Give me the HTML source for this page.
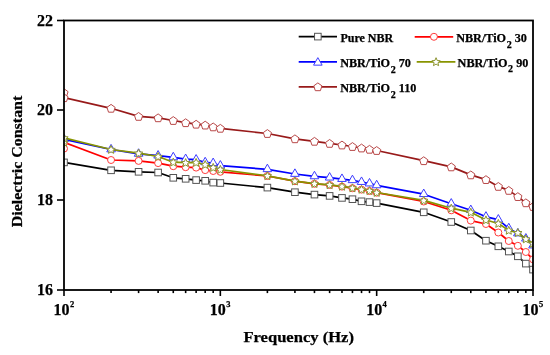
<!DOCTYPE html>
<html><head><meta charset="utf-8"><style>
html,body{margin:0;padding:0;background:#fff;}
body{width:550px;height:355px;overflow:hidden;}
svg{display:block;}
text{font-family:"Liberation Serif","Times New Roman",serif;font-weight:bold;fill:#000;stroke:#000;stroke-width:0.25px;}
.tl{font-size:16px;}
.sup{font-size:8.5px;}
.lg{font-size:12px;}
.sub{font-size:10px;}
.at{font-size:15.5px;}
</style></head><body>
<svg width="550" height="355" viewBox="0 0 550 355">
<rect width="550" height="355" fill="#fff"/>
<defs><clipPath id="pc"><rect x="64" y="20" width="469" height="270"/></clipPath></defs>
<g clip-path="url(#pc)">
<polyline points="64.00,162.40 111.06,170.30 138.59,171.80 158.12,172.50 173.27,177.80 185.65,178.80 196.12,180.10 205.18,180.80 213.18,182.60 220.33,183.00 267.39,187.60 294.92,192.20 314.46,194.60 329.61,195.90 341.98,197.90 352.45,199.20 361.52,201.30 369.51,202.10 376.67,203.10 423.73,212.30 451.26,222.00 470.79,230.50 485.94,240.70 498.32,246.30 508.78,251.50 517.85,256.30 525.85,263.60 533.00,269.60" fill="none" stroke="#000000" stroke-width="1.7" stroke-linejoin="round"/>
<rect x="60.70" y="159.10" width="6.6" height="6.6" fill="#fff" stroke="#555555" stroke-width="1.0"/>
<rect x="107.76" y="167.00" width="6.6" height="6.6" fill="#fff" stroke="#555555" stroke-width="1.0"/>
<rect x="135.29" y="168.50" width="6.6" height="6.6" fill="#fff" stroke="#555555" stroke-width="1.0"/>
<rect x="154.82" y="169.20" width="6.6" height="6.6" fill="#fff" stroke="#555555" stroke-width="1.0"/>
<rect x="169.97" y="174.50" width="6.6" height="6.6" fill="#fff" stroke="#555555" stroke-width="1.0"/>
<rect x="182.35" y="175.50" width="6.6" height="6.6" fill="#fff" stroke="#555555" stroke-width="1.0"/>
<rect x="192.82" y="176.80" width="6.6" height="6.6" fill="#fff" stroke="#555555" stroke-width="1.0"/>
<rect x="201.88" y="177.50" width="6.6" height="6.6" fill="#fff" stroke="#555555" stroke-width="1.0"/>
<rect x="209.88" y="179.30" width="6.6" height="6.6" fill="#fff" stroke="#555555" stroke-width="1.0"/>
<rect x="217.03" y="179.70" width="6.6" height="6.6" fill="#fff" stroke="#555555" stroke-width="1.0"/>
<rect x="264.09" y="184.30" width="6.6" height="6.6" fill="#fff" stroke="#555555" stroke-width="1.0"/>
<rect x="291.62" y="188.90" width="6.6" height="6.6" fill="#fff" stroke="#555555" stroke-width="1.0"/>
<rect x="311.16" y="191.30" width="6.6" height="6.6" fill="#fff" stroke="#555555" stroke-width="1.0"/>
<rect x="326.31" y="192.60" width="6.6" height="6.6" fill="#fff" stroke="#555555" stroke-width="1.0"/>
<rect x="338.68" y="194.60" width="6.6" height="6.6" fill="#fff" stroke="#555555" stroke-width="1.0"/>
<rect x="349.15" y="195.90" width="6.6" height="6.6" fill="#fff" stroke="#555555" stroke-width="1.0"/>
<rect x="358.22" y="198.00" width="6.6" height="6.6" fill="#fff" stroke="#555555" stroke-width="1.0"/>
<rect x="366.21" y="198.80" width="6.6" height="6.6" fill="#fff" stroke="#555555" stroke-width="1.0"/>
<rect x="373.37" y="199.80" width="6.6" height="6.6" fill="#fff" stroke="#555555" stroke-width="1.0"/>
<rect x="420.43" y="209.00" width="6.6" height="6.6" fill="#fff" stroke="#555555" stroke-width="1.0"/>
<rect x="447.96" y="218.70" width="6.6" height="6.6" fill="#fff" stroke="#555555" stroke-width="1.0"/>
<rect x="467.49" y="227.20" width="6.6" height="6.6" fill="#fff" stroke="#555555" stroke-width="1.0"/>
<rect x="482.64" y="237.40" width="6.6" height="6.6" fill="#fff" stroke="#555555" stroke-width="1.0"/>
<rect x="495.02" y="243.00" width="6.6" height="6.6" fill="#fff" stroke="#555555" stroke-width="1.0"/>
<rect x="505.48" y="248.20" width="6.6" height="6.6" fill="#fff" stroke="#555555" stroke-width="1.0"/>
<rect x="514.55" y="253.00" width="6.6" height="6.6" fill="#fff" stroke="#555555" stroke-width="1.0"/>
<rect x="522.55" y="260.30" width="6.6" height="6.6" fill="#fff" stroke="#555555" stroke-width="1.0"/>
<rect x="529.70" y="266.30" width="6.6" height="6.6" fill="#fff" stroke="#555555" stroke-width="1.0"/>
<polyline points="64.00,142.40 111.06,160.00 138.59,160.90 158.12,163.10 173.27,166.20 185.65,167.20 196.12,167.60 205.18,170.10 213.18,171.00 220.33,171.80 267.39,176.00 294.92,181.20 314.46,183.80 329.61,185.00 341.98,186.60 352.45,188.20 361.52,189.60 369.51,191.00 376.67,192.70 423.73,201.50 451.26,210.30 470.79,220.60 485.94,224.00 498.32,232.50 508.78,241.00 517.85,245.80 525.85,252.00 533.00,259.30" fill="none" stroke="#ff0000" stroke-width="1.7" stroke-linejoin="round"/>
<circle cx="64.00" cy="148.60" r="3.5" fill="#fff" stroke="#ff3c3c" stroke-width="1.0"/>
<circle cx="64.00" cy="142.40" r="3.5" fill="#fff" stroke="#ff3c3c" stroke-width="1.0"/>
<circle cx="111.06" cy="160.00" r="3.5" fill="#fff" stroke="#ff3c3c" stroke-width="1.0"/>
<circle cx="138.59" cy="160.90" r="3.5" fill="#fff" stroke="#ff3c3c" stroke-width="1.0"/>
<circle cx="158.12" cy="163.10" r="3.5" fill="#fff" stroke="#ff3c3c" stroke-width="1.0"/>
<circle cx="173.27" cy="166.20" r="3.5" fill="#fff" stroke="#ff3c3c" stroke-width="1.0"/>
<circle cx="185.65" cy="167.20" r="3.5" fill="#fff" stroke="#ff3c3c" stroke-width="1.0"/>
<circle cx="196.12" cy="167.60" r="3.5" fill="#fff" stroke="#ff3c3c" stroke-width="1.0"/>
<circle cx="205.18" cy="170.10" r="3.5" fill="#fff" stroke="#ff3c3c" stroke-width="1.0"/>
<circle cx="213.18" cy="171.00" r="3.5" fill="#fff" stroke="#ff3c3c" stroke-width="1.0"/>
<circle cx="220.33" cy="171.80" r="3.5" fill="#fff" stroke="#ff3c3c" stroke-width="1.0"/>
<circle cx="267.39" cy="176.00" r="3.5" fill="#fff" stroke="#ff3c3c" stroke-width="1.0"/>
<circle cx="294.92" cy="181.20" r="3.5" fill="#fff" stroke="#ff3c3c" stroke-width="1.0"/>
<circle cx="314.46" cy="183.80" r="3.5" fill="#fff" stroke="#ff3c3c" stroke-width="1.0"/>
<circle cx="329.61" cy="185.00" r="3.5" fill="#fff" stroke="#ff3c3c" stroke-width="1.0"/>
<circle cx="341.98" cy="186.60" r="3.5" fill="#fff" stroke="#ff3c3c" stroke-width="1.0"/>
<circle cx="352.45" cy="188.20" r="3.5" fill="#fff" stroke="#ff3c3c" stroke-width="1.0"/>
<circle cx="361.52" cy="189.60" r="3.5" fill="#fff" stroke="#ff3c3c" stroke-width="1.0"/>
<circle cx="369.51" cy="191.00" r="3.5" fill="#fff" stroke="#ff3c3c" stroke-width="1.0"/>
<circle cx="376.67" cy="192.70" r="3.5" fill="#fff" stroke="#ff3c3c" stroke-width="1.0"/>
<circle cx="423.73" cy="201.50" r="3.5" fill="#fff" stroke="#ff3c3c" stroke-width="1.0"/>
<circle cx="451.26" cy="210.30" r="3.5" fill="#fff" stroke="#ff3c3c" stroke-width="1.0"/>
<circle cx="470.79" cy="220.60" r="3.5" fill="#fff" stroke="#ff3c3c" stroke-width="1.0"/>
<circle cx="485.94" cy="224.00" r="3.5" fill="#fff" stroke="#ff3c3c" stroke-width="1.0"/>
<circle cx="498.32" cy="232.50" r="3.5" fill="#fff" stroke="#ff3c3c" stroke-width="1.0"/>
<circle cx="508.78" cy="241.00" r="3.5" fill="#fff" stroke="#ff3c3c" stroke-width="1.0"/>
<circle cx="517.85" cy="245.80" r="3.5" fill="#fff" stroke="#ff3c3c" stroke-width="1.0"/>
<circle cx="525.85" cy="252.00" r="3.5" fill="#fff" stroke="#ff3c3c" stroke-width="1.0"/>
<circle cx="533.00" cy="259.30" r="3.5" fill="#fff" stroke="#ff3c3c" stroke-width="1.0"/>
<polyline points="64.00,139.40 111.06,149.50 138.59,153.90 158.12,155.70 173.27,157.40 185.65,159.20 196.12,159.70 205.18,162.40 213.18,163.20 220.33,165.70 267.39,169.30 294.92,174.00 314.46,176.40 329.61,177.70 341.98,179.10 352.45,180.30 361.52,182.10 369.51,183.60 376.67,185.40 423.73,194.20 451.26,203.70 470.79,210.20 485.94,216.80 498.32,219.70 508.78,228.40 517.85,233.50 525.85,238.70 533.00,245.60" fill="none" stroke="#0000ff" stroke-width="1.7" stroke-linejoin="round"/>
<polygon points="64.00,134.25 68.30,141.75 59.70,141.75" fill="#fff" stroke="#3c3cff" stroke-width="1.0" stroke-linejoin="miter"/>
<polygon points="111.06,144.35 115.36,151.85 106.76,151.85" fill="#fff" stroke="#3c3cff" stroke-width="1.0" stroke-linejoin="miter"/>
<polygon points="138.59,148.75 142.89,156.25 134.29,156.25" fill="#fff" stroke="#3c3cff" stroke-width="1.0" stroke-linejoin="miter"/>
<polygon points="158.12,150.55 162.42,158.05 153.82,158.05" fill="#fff" stroke="#3c3cff" stroke-width="1.0" stroke-linejoin="miter"/>
<polygon points="173.27,152.25 177.57,159.75 168.97,159.75" fill="#fff" stroke="#3c3cff" stroke-width="1.0" stroke-linejoin="miter"/>
<polygon points="185.65,154.05 189.95,161.55 181.35,161.55" fill="#fff" stroke="#3c3cff" stroke-width="1.0" stroke-linejoin="miter"/>
<polygon points="196.12,154.55 200.42,162.05 191.82,162.05" fill="#fff" stroke="#3c3cff" stroke-width="1.0" stroke-linejoin="miter"/>
<polygon points="205.18,157.25 209.48,164.75 200.88,164.75" fill="#fff" stroke="#3c3cff" stroke-width="1.0" stroke-linejoin="miter"/>
<polygon points="213.18,158.05 217.48,165.55 208.88,165.55" fill="#fff" stroke="#3c3cff" stroke-width="1.0" stroke-linejoin="miter"/>
<polygon points="220.33,160.55 224.63,168.05 216.03,168.05" fill="#fff" stroke="#3c3cff" stroke-width="1.0" stroke-linejoin="miter"/>
<polygon points="267.39,164.15 271.69,171.65 263.09,171.65" fill="#fff" stroke="#3c3cff" stroke-width="1.0" stroke-linejoin="miter"/>
<polygon points="294.92,168.85 299.22,176.35 290.62,176.35" fill="#fff" stroke="#3c3cff" stroke-width="1.0" stroke-linejoin="miter"/>
<polygon points="314.46,171.25 318.76,178.75 310.16,178.75" fill="#fff" stroke="#3c3cff" stroke-width="1.0" stroke-linejoin="miter"/>
<polygon points="329.61,172.55 333.91,180.05 325.31,180.05" fill="#fff" stroke="#3c3cff" stroke-width="1.0" stroke-linejoin="miter"/>
<polygon points="341.98,173.95 346.28,181.45 337.68,181.45" fill="#fff" stroke="#3c3cff" stroke-width="1.0" stroke-linejoin="miter"/>
<polygon points="352.45,175.15 356.75,182.65 348.15,182.65" fill="#fff" stroke="#3c3cff" stroke-width="1.0" stroke-linejoin="miter"/>
<polygon points="361.52,176.95 365.82,184.45 357.22,184.45" fill="#fff" stroke="#3c3cff" stroke-width="1.0" stroke-linejoin="miter"/>
<polygon points="369.51,178.45 373.81,185.95 365.21,185.95" fill="#fff" stroke="#3c3cff" stroke-width="1.0" stroke-linejoin="miter"/>
<polygon points="376.67,180.25 380.97,187.75 372.37,187.75" fill="#fff" stroke="#3c3cff" stroke-width="1.0" stroke-linejoin="miter"/>
<polygon points="423.73,189.05 428.03,196.55 419.43,196.55" fill="#fff" stroke="#3c3cff" stroke-width="1.0" stroke-linejoin="miter"/>
<polygon points="451.26,198.55 455.56,206.05 446.96,206.05" fill="#fff" stroke="#3c3cff" stroke-width="1.0" stroke-linejoin="miter"/>
<polygon points="470.79,205.05 475.09,212.55 466.49,212.55" fill="#fff" stroke="#3c3cff" stroke-width="1.0" stroke-linejoin="miter"/>
<polygon points="485.94,211.65 490.24,219.15 481.64,219.15" fill="#fff" stroke="#3c3cff" stroke-width="1.0" stroke-linejoin="miter"/>
<polygon points="498.32,214.55 502.62,222.05 494.02,222.05" fill="#fff" stroke="#3c3cff" stroke-width="1.0" stroke-linejoin="miter"/>
<polygon points="508.78,223.25 513.08,230.75 504.48,230.75" fill="#fff" stroke="#3c3cff" stroke-width="1.0" stroke-linejoin="miter"/>
<polygon points="517.85,228.35 522.15,235.85 513.55,235.85" fill="#fff" stroke="#3c3cff" stroke-width="1.0" stroke-linejoin="miter"/>
<polygon points="525.85,233.55 530.15,241.05 521.55,241.05" fill="#fff" stroke="#3c3cff" stroke-width="1.0" stroke-linejoin="miter"/>
<polygon points="533.00,240.45 537.30,247.95 528.70,247.95" fill="#fff" stroke="#3c3cff" stroke-width="1.0" stroke-linejoin="miter"/>
<polyline points="64.00,137.90 111.06,149.50 138.59,153.20 158.12,156.50 173.27,162.20 185.65,162.70 196.12,162.50 205.18,164.60 213.18,167.50 220.33,169.50 267.39,175.80 294.92,181.10 314.46,183.60 329.61,184.80 341.98,186.40 352.45,188.00 361.52,189.40 369.51,190.70 376.67,192.50 423.73,200.40 451.26,208.20 470.79,212.30 485.94,220.00 498.32,223.50 508.78,230.40 517.85,232.70 525.85,239.00 533.00,243.50" fill="none" stroke="#889400" stroke-width="1.7" stroke-linejoin="round"/>
<polygon points="64.00,138.20 65.18,140.98 68.18,141.24 65.90,143.22 66.59,146.16 64.00,144.60 61.41,146.16 62.10,143.22 59.82,141.24 62.82,140.98" fill="#fff" stroke="#8c9430" stroke-width="1.0" stroke-linejoin="miter"/>
<polygon points="64.00,133.80 65.18,136.58 68.18,136.84 65.90,138.82 66.59,141.76 64.00,140.20 61.41,141.76 62.10,138.82 59.82,136.84 62.82,136.58" fill="#fff" stroke="#8c9430" stroke-width="1.0" stroke-linejoin="miter"/>
<polygon points="111.06,145.40 112.24,148.18 115.25,148.44 112.96,150.42 113.65,153.36 111.06,151.80 108.47,153.36 109.16,150.42 106.88,148.44 109.89,148.18" fill="#fff" stroke="#8c9430" stroke-width="1.0" stroke-linejoin="miter"/>
<polygon points="138.59,149.10 139.77,151.88 142.77,152.14 140.49,154.12 141.18,157.06 138.59,155.50 136.00,157.06 136.69,154.12 134.41,152.14 137.41,151.88" fill="#fff" stroke="#8c9430" stroke-width="1.0" stroke-linejoin="miter"/>
<polygon points="158.12,152.40 159.30,155.18 162.31,155.44 160.02,157.42 160.71,160.36 158.12,158.80 155.54,160.36 156.22,157.42 153.94,155.44 156.95,155.18" fill="#fff" stroke="#8c9430" stroke-width="1.0" stroke-linejoin="miter"/>
<polygon points="173.27,158.10 174.45,160.88 177.46,161.14 175.17,163.12 175.86,166.06 173.27,164.50 170.69,166.06 171.37,163.12 169.09,161.14 172.10,160.88" fill="#fff" stroke="#8c9430" stroke-width="1.0" stroke-linejoin="miter"/>
<polygon points="185.65,158.60 186.83,161.38 189.84,161.64 187.55,163.62 188.24,166.56 185.65,165.00 183.06,166.56 183.75,163.62 181.47,161.64 184.48,161.38" fill="#fff" stroke="#8c9430" stroke-width="1.0" stroke-linejoin="miter"/>
<polygon points="196.12,158.40 197.29,161.18 200.30,161.44 198.02,163.42 198.70,166.36 196.12,164.80 193.53,166.36 194.21,163.42 191.93,161.44 194.94,161.18" fill="#fff" stroke="#8c9430" stroke-width="1.0" stroke-linejoin="miter"/>
<polygon points="205.18,160.50 206.36,163.28 209.37,163.54 207.09,165.52 207.77,168.46 205.18,166.90 202.60,168.46 203.28,165.52 201.00,163.54 204.01,163.28" fill="#fff" stroke="#8c9430" stroke-width="1.0" stroke-linejoin="miter"/>
<polygon points="213.18,163.40 214.36,166.18 217.36,166.44 215.08,168.42 215.77,171.36 213.18,169.80 210.59,171.36 211.28,168.42 209.00,166.44 212.00,166.18" fill="#fff" stroke="#8c9430" stroke-width="1.0" stroke-linejoin="miter"/>
<polygon points="220.33,165.40 221.51,168.18 224.52,168.44 222.24,170.42 222.92,173.36 220.33,171.80 217.75,173.36 218.43,170.42 216.15,168.44 219.16,168.18" fill="#fff" stroke="#8c9430" stroke-width="1.0" stroke-linejoin="miter"/>
<polygon points="267.39,171.70 268.57,174.48 271.58,174.74 269.30,176.72 269.98,179.66 267.39,178.10 264.81,179.66 265.49,176.72 263.21,174.74 266.22,174.48" fill="#fff" stroke="#8c9430" stroke-width="1.0" stroke-linejoin="miter"/>
<polygon points="294.92,177.00 296.10,179.78 299.11,180.04 296.83,182.02 297.51,184.96 294.92,183.40 292.34,184.96 293.02,182.02 290.74,180.04 293.75,179.78" fill="#fff" stroke="#8c9430" stroke-width="1.0" stroke-linejoin="miter"/>
<polygon points="314.46,179.50 315.63,182.28 318.64,182.54 316.36,184.52 317.04,187.46 314.46,185.90 311.87,187.46 312.55,184.52 310.27,182.54 313.28,182.28" fill="#fff" stroke="#8c9430" stroke-width="1.0" stroke-linejoin="miter"/>
<polygon points="329.61,180.70 330.78,183.48 333.79,183.74 331.51,185.72 332.19,188.66 329.61,187.10 327.02,188.66 327.70,185.72 325.42,183.74 328.43,183.48" fill="#fff" stroke="#8c9430" stroke-width="1.0" stroke-linejoin="miter"/>
<polygon points="341.98,182.30 343.16,185.08 346.17,185.34 343.89,187.32 344.57,190.26 341.98,188.70 339.40,190.26 340.08,187.32 337.80,185.34 340.81,185.08" fill="#fff" stroke="#8c9430" stroke-width="1.0" stroke-linejoin="miter"/>
<polygon points="352.45,183.90 353.63,186.68 356.63,186.94 354.35,188.92 355.04,191.86 352.45,190.30 349.86,191.86 350.55,188.92 348.27,186.94 351.27,186.68" fill="#fff" stroke="#8c9430" stroke-width="1.0" stroke-linejoin="miter"/>
<polygon points="361.52,185.30 362.69,188.08 365.70,188.34 363.42,190.32 364.10,193.26 361.52,191.70 358.93,193.26 359.61,190.32 357.33,188.34 360.34,188.08" fill="#fff" stroke="#8c9430" stroke-width="1.0" stroke-linejoin="miter"/>
<polygon points="369.51,186.60 370.69,189.38 373.70,189.64 371.42,191.62 372.10,194.56 369.51,193.00 366.93,194.56 367.61,191.62 365.33,189.64 368.34,189.38" fill="#fff" stroke="#8c9430" stroke-width="1.0" stroke-linejoin="miter"/>
<polygon points="376.67,188.40 377.84,191.18 380.85,191.44 378.57,193.42 379.25,196.36 376.67,194.80 374.08,196.36 374.76,193.42 372.48,191.44 375.49,191.18" fill="#fff" stroke="#8c9430" stroke-width="1.0" stroke-linejoin="miter"/>
<polygon points="423.73,196.30 424.90,199.08 427.91,199.34 425.63,201.32 426.31,204.26 423.73,202.70 421.14,204.26 421.83,201.32 419.54,199.34 422.55,199.08" fill="#fff" stroke="#8c9430" stroke-width="1.0" stroke-linejoin="miter"/>
<polygon points="451.26,204.10 452.43,206.88 455.44,207.14 453.16,209.12 453.84,212.06 451.26,210.50 448.67,212.06 449.35,209.12 447.07,207.14 450.08,206.88" fill="#fff" stroke="#8c9430" stroke-width="1.0" stroke-linejoin="miter"/>
<polygon points="470.79,208.20 471.96,210.98 474.97,211.24 472.69,213.22 473.37,216.16 470.79,214.60 468.20,216.16 468.89,213.22 466.60,211.24 469.61,210.98" fill="#fff" stroke="#8c9430" stroke-width="1.0" stroke-linejoin="miter"/>
<polygon points="485.94,215.90 487.11,218.68 490.12,218.94 487.84,220.92 488.53,223.86 485.94,222.30 483.35,223.86 484.04,220.92 481.75,218.94 484.76,218.68" fill="#fff" stroke="#8c9430" stroke-width="1.0" stroke-linejoin="miter"/>
<polygon points="498.32,219.40 499.49,222.18 502.50,222.44 500.22,224.42 500.90,227.36 498.32,225.80 495.73,227.36 496.42,224.42 494.13,222.44 497.14,222.18" fill="#fff" stroke="#8c9430" stroke-width="1.0" stroke-linejoin="miter"/>
<polygon points="508.78,226.30 509.96,229.08 512.97,229.34 510.69,231.32 511.37,234.26 508.78,232.70 506.20,234.26 506.88,231.32 504.60,229.34 507.61,229.08" fill="#fff" stroke="#8c9430" stroke-width="1.0" stroke-linejoin="miter"/>
<polygon points="517.85,228.60 519.03,231.38 522.03,231.64 519.75,233.62 520.44,236.56 517.85,235.00 515.26,236.56 515.95,233.62 513.67,231.64 516.67,231.38" fill="#fff" stroke="#8c9430" stroke-width="1.0" stroke-linejoin="miter"/>
<polygon points="525.85,234.90 527.02,237.68 530.03,237.94 527.75,239.92 528.43,242.86 525.85,241.30 523.26,242.86 523.94,239.92 521.66,237.94 524.67,237.68" fill="#fff" stroke="#8c9430" stroke-width="1.0" stroke-linejoin="miter"/>
<polygon points="533.00,239.40 534.18,242.18 537.18,242.44 534.90,244.42 535.59,247.36 533.00,245.80 530.41,247.36 531.10,244.42 528.82,242.44 531.82,242.18" fill="#fff" stroke="#8c9430" stroke-width="1.0" stroke-linejoin="miter"/>
<polyline points="64.00,97.70 111.06,108.30 138.59,116.40 158.12,117.80 173.27,120.50 185.65,122.70 196.12,124.20 205.18,125.10 213.18,126.90 220.33,128.30 267.39,133.50 294.92,138.80 314.46,141.30 329.61,143.40 341.98,145.00 352.45,146.50 361.52,148.00 369.51,149.30 376.67,150.50 423.73,160.70 451.26,166.90 470.79,174.90 485.94,179.60 498.32,186.40 508.78,190.40 517.85,196.60 525.85,202.80 533.00,206.50" fill="none" stroke="#981a1a" stroke-width="1.7" stroke-linejoin="round"/>
<polygon points="64.00,88.70 68.09,91.67 66.53,96.48 61.47,96.48 59.91,91.67" fill="#fff" stroke="#b84848" stroke-width="1.0" stroke-linejoin="miter"/>
<polygon points="64.00,93.80 68.09,96.77 66.53,101.58 61.47,101.58 59.91,96.77" fill="#fff" stroke="#b84848" stroke-width="1.0" stroke-linejoin="miter"/>
<polygon points="111.06,104.40 115.15,107.37 113.59,112.18 108.53,112.18 106.97,107.37" fill="#fff" stroke="#b84848" stroke-width="1.0" stroke-linejoin="miter"/>
<polygon points="138.59,112.50 142.68,115.47 141.12,120.28 136.06,120.28 134.50,115.47" fill="#fff" stroke="#b84848" stroke-width="1.0" stroke-linejoin="miter"/>
<polygon points="158.12,113.90 162.21,116.87 160.65,121.68 155.59,121.68 154.03,116.87" fill="#fff" stroke="#b84848" stroke-width="1.0" stroke-linejoin="miter"/>
<polygon points="173.27,116.60 177.36,119.57 175.80,124.38 170.74,124.38 169.18,119.57" fill="#fff" stroke="#b84848" stroke-width="1.0" stroke-linejoin="miter"/>
<polygon points="185.65,118.80 189.74,121.77 188.18,126.58 183.12,126.58 181.56,121.77" fill="#fff" stroke="#b84848" stroke-width="1.0" stroke-linejoin="miter"/>
<polygon points="196.12,120.30 200.21,123.27 198.64,128.08 193.59,128.08 192.03,123.27" fill="#fff" stroke="#b84848" stroke-width="1.0" stroke-linejoin="miter"/>
<polygon points="205.18,121.20 209.27,124.17 207.71,128.98 202.66,128.98 201.09,124.17" fill="#fff" stroke="#b84848" stroke-width="1.0" stroke-linejoin="miter"/>
<polygon points="213.18,123.00 217.27,125.97 215.71,130.78 210.65,130.78 209.09,125.97" fill="#fff" stroke="#b84848" stroke-width="1.0" stroke-linejoin="miter"/>
<polygon points="220.33,124.40 224.42,127.37 222.86,132.18 217.81,132.18 216.24,127.37" fill="#fff" stroke="#b84848" stroke-width="1.0" stroke-linejoin="miter"/>
<polygon points="267.39,129.60 271.48,132.57 269.92,137.38 264.87,137.38 263.30,132.57" fill="#fff" stroke="#b84848" stroke-width="1.0" stroke-linejoin="miter"/>
<polygon points="294.92,134.90 299.01,137.87 297.45,142.68 292.40,142.68 290.83,137.87" fill="#fff" stroke="#b84848" stroke-width="1.0" stroke-linejoin="miter"/>
<polygon points="314.46,137.40 318.54,140.37 316.98,145.18 311.93,145.18 310.37,140.37" fill="#fff" stroke="#b84848" stroke-width="1.0" stroke-linejoin="miter"/>
<polygon points="329.61,139.50 333.70,142.47 332.13,147.28 327.08,147.28 325.52,142.47" fill="#fff" stroke="#b84848" stroke-width="1.0" stroke-linejoin="miter"/>
<polygon points="341.98,141.10 346.07,144.07 344.51,148.88 339.46,148.88 337.89,144.07" fill="#fff" stroke="#b84848" stroke-width="1.0" stroke-linejoin="miter"/>
<polygon points="352.45,142.60 356.54,145.57 354.98,150.38 349.92,150.38 348.36,145.57" fill="#fff" stroke="#b84848" stroke-width="1.0" stroke-linejoin="miter"/>
<polygon points="361.52,144.10 365.61,147.07 364.04,151.88 358.99,151.88 357.43,147.07" fill="#fff" stroke="#b84848" stroke-width="1.0" stroke-linejoin="miter"/>
<polygon points="369.51,145.40 373.60,148.37 372.04,153.18 366.99,153.18 365.42,148.37" fill="#fff" stroke="#b84848" stroke-width="1.0" stroke-linejoin="miter"/>
<polygon points="376.67,146.60 380.76,149.57 379.19,154.38 374.14,154.38 372.58,149.57" fill="#fff" stroke="#b84848" stroke-width="1.0" stroke-linejoin="miter"/>
<polygon points="423.73,156.80 427.82,159.77 426.26,164.58 421.20,164.58 419.64,159.77" fill="#fff" stroke="#b84848" stroke-width="1.0" stroke-linejoin="miter"/>
<polygon points="451.26,163.00 455.35,165.97 453.78,170.78 448.73,170.78 447.17,165.97" fill="#fff" stroke="#b84848" stroke-width="1.0" stroke-linejoin="miter"/>
<polygon points="470.79,171.00 474.88,173.97 473.32,178.78 468.26,178.78 466.70,173.97" fill="#fff" stroke="#b84848" stroke-width="1.0" stroke-linejoin="miter"/>
<polygon points="485.94,175.70 490.03,178.67 488.47,183.48 483.41,183.48 481.85,178.67" fill="#fff" stroke="#b84848" stroke-width="1.0" stroke-linejoin="miter"/>
<polygon points="498.32,182.50 502.41,185.47 500.85,190.28 495.79,190.28 494.23,185.47" fill="#fff" stroke="#b84848" stroke-width="1.0" stroke-linejoin="miter"/>
<polygon points="508.78,186.50 512.87,189.47 511.31,194.28 506.26,194.28 504.69,189.47" fill="#fff" stroke="#b84848" stroke-width="1.0" stroke-linejoin="miter"/>
<polygon points="517.85,192.70 521.94,195.67 520.38,200.48 515.32,200.48 513.76,195.67" fill="#fff" stroke="#b84848" stroke-width="1.0" stroke-linejoin="miter"/>
<polygon points="525.85,198.90 529.94,201.87 528.37,206.68 523.32,206.68 521.76,201.87" fill="#fff" stroke="#b84848" stroke-width="1.0" stroke-linejoin="miter"/>
<polygon points="533.00,202.60 537.09,205.57 535.53,210.38 530.47,210.38 528.91,205.57" fill="#fff" stroke="#b84848" stroke-width="1.0" stroke-linejoin="miter"/>
</g>
<rect x="64" y="20.5" width="469" height="269.5" fill="none" stroke="#000" stroke-width="1.8"/>
<line x1="111.06" y1="290" x2="111.06" y2="293.1" stroke="#000" stroke-width="1.6"/>
<line x1="138.59" y1="290" x2="138.59" y2="293.1" stroke="#000" stroke-width="1.6"/>
<line x1="158.12" y1="290" x2="158.12" y2="293.1" stroke="#000" stroke-width="1.6"/>
<line x1="173.27" y1="290" x2="173.27" y2="293.1" stroke="#000" stroke-width="1.6"/>
<line x1="185.65" y1="290" x2="185.65" y2="293.1" stroke="#000" stroke-width="1.6"/>
<line x1="196.12" y1="290" x2="196.12" y2="293.1" stroke="#000" stroke-width="1.6"/>
<line x1="205.18" y1="290" x2="205.18" y2="293.1" stroke="#000" stroke-width="1.6"/>
<line x1="213.18" y1="290" x2="213.18" y2="293.1" stroke="#000" stroke-width="1.6"/>
<line x1="267.39" y1="290" x2="267.39" y2="293.1" stroke="#000" stroke-width="1.6"/>
<line x1="294.92" y1="290" x2="294.92" y2="293.1" stroke="#000" stroke-width="1.6"/>
<line x1="314.46" y1="290" x2="314.46" y2="293.1" stroke="#000" stroke-width="1.6"/>
<line x1="329.61" y1="290" x2="329.61" y2="293.1" stroke="#000" stroke-width="1.6"/>
<line x1="341.98" y1="290" x2="341.98" y2="293.1" stroke="#000" stroke-width="1.6"/>
<line x1="352.45" y1="290" x2="352.45" y2="293.1" stroke="#000" stroke-width="1.6"/>
<line x1="361.52" y1="290" x2="361.52" y2="293.1" stroke="#000" stroke-width="1.6"/>
<line x1="369.51" y1="290" x2="369.51" y2="293.1" stroke="#000" stroke-width="1.6"/>
<line x1="423.73" y1="290" x2="423.73" y2="293.1" stroke="#000" stroke-width="1.6"/>
<line x1="451.26" y1="290" x2="451.26" y2="293.1" stroke="#000" stroke-width="1.6"/>
<line x1="470.79" y1="290" x2="470.79" y2="293.1" stroke="#000" stroke-width="1.6"/>
<line x1="485.94" y1="290" x2="485.94" y2="293.1" stroke="#000" stroke-width="1.6"/>
<line x1="498.32" y1="290" x2="498.32" y2="293.1" stroke="#000" stroke-width="1.6"/>
<line x1="508.78" y1="290" x2="508.78" y2="293.1" stroke="#000" stroke-width="1.6"/>
<line x1="517.85" y1="290" x2="517.85" y2="293.1" stroke="#000" stroke-width="1.6"/>
<line x1="525.85" y1="290" x2="525.85" y2="293.1" stroke="#000" stroke-width="1.6"/>
<line x1="64.00" y1="290" x2="64.00" y2="296" stroke="#000" stroke-width="1.6"/>
<line x1="220.33" y1="290" x2="220.33" y2="296" stroke="#000" stroke-width="1.6"/>
<line x1="376.67" y1="290" x2="376.67" y2="296" stroke="#000" stroke-width="1.6"/>
<line x1="533.00" y1="290" x2="533.00" y2="296" stroke="#000" stroke-width="1.6"/>
<line x1="57" y1="20.5" x2="64" y2="20.5" stroke="#000" stroke-width="1.6"/>
<line x1="57" y1="110" x2="64" y2="110" stroke="#000" stroke-width="1.6"/>
<line x1="57" y1="200" x2="64" y2="200" stroke="#000" stroke-width="1.6"/>
<line x1="57" y1="290" x2="64" y2="290" stroke="#000" stroke-width="1.6"/>
<text x="53" y="25.7" text-anchor="end" class="tl">22</text>
<text x="53" y="115.2" text-anchor="end" class="tl">20</text>
<text x="53" y="205.2" text-anchor="end" class="tl">18</text>
<text x="53" y="295.2" text-anchor="end" class="tl">16</text>
<text x="63.8" y="314.5" text-anchor="middle" class="tl">10<tspan class="sup" dx="0.4" dy="-7.7">2</tspan></text>
<text x="220.1" y="314.5" text-anchor="middle" class="tl">10<tspan class="sup" dx="0.4" dy="-7.7">3</tspan></text>
<text x="376.5" y="314.5" text-anchor="middle" class="tl">10<tspan class="sup" dx="0.4" dy="-7.7">4</tspan></text>
<text x="532.8" y="314.5" text-anchor="middle" class="tl">10<tspan class="sup" dx="0.4" dy="-7.7">5</tspan></text>
<text x="243.4" y="341.6" class="at" textLength="110.6" lengthAdjust="spacingAndGlyphs">Frequency (Hz)</text>
<text transform="translate(22.0,227.3) rotate(-90)" class="at" textLength="131.6" lengthAdjust="spacingAndGlyphs">Dielectric Constant</text>
<line x1="298.7" y1="36.6" x2="337.0" y2="36.6" stroke="#000000" stroke-width="1.7"/><rect x="314.55" y="33.30" width="6.6" height="6.6" fill="#fff" stroke="#555555" stroke-width="1.0"/><text x="340.4" y="42.0" class="lg" style="font-size:12.0px">Pure NBR</text>
<line x1="298.7" y1="61.8" x2="337.0" y2="61.8" stroke="#0000ff" stroke-width="1.7"/><polygon points="317.85,57.65 322.15,65.15 313.55,65.15" fill="#fff" stroke="#3c3cff" stroke-width="1.0" stroke-linejoin="miter"/><text x="340.2" y="67.0" class="lg" style="font-size:12.2px">NBR/TiO<tspan class="sub" dx="0.6" dy="5.6">2</tspan><tspan dy="-5.6"> 70</tspan></text>
<line x1="298.7" y1="86.8" x2="337.0" y2="86.8" stroke="#981a1a" stroke-width="1.7"/><polygon points="317.85,82.90 321.94,85.87 320.38,90.68 315.32,90.68 313.76,85.87" fill="#fff" stroke="#b84848" stroke-width="1.0" stroke-linejoin="miter"/><text x="340.2" y="92.2" class="lg" style="font-size:12.2px">NBR/TiO<tspan class="sub" dx="0.6" dy="5.6">2</tspan><tspan dy="-5.6"> 110</tspan></text>
<line x1="414.7" y1="36.8" x2="453.2" y2="36.8" stroke="#ff0000" stroke-width="1.7"/><circle cx="433.95" cy="36.80" r="3.5" fill="#fff" stroke="#ff3c3c" stroke-width="1.0"/><text x="456.2" y="42.0" class="lg" style="font-size:12.2px">NBR/TiO<tspan class="sub" dx="0.6" dy="5.6">2</tspan><tspan dy="-5.6"> 30</tspan></text>
<line x1="416.7" y1="61.8" x2="455.4" y2="61.8" stroke="#889400" stroke-width="1.7"/><polygon points="436.05,57.70 437.23,60.48 440.23,60.74 437.95,62.72 438.64,65.66 436.05,64.10 433.46,65.66 434.15,62.72 431.87,60.74 434.87,60.48" fill="#fff" stroke="#8c9430" stroke-width="1.0" stroke-linejoin="miter"/><text x="457.6" y="66.8" class="lg" style="font-size:12.2px">NBR/TiO<tspan class="sub" dx="0.6" dy="5.6">2</tspan><tspan dy="-5.6"> 90</tspan></text>
</svg>
</body></html>
